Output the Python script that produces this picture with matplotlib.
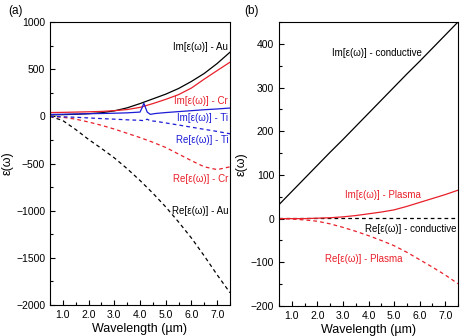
import matplotlib
matplotlib.use("Agg")
import matplotlib.pyplot as plt
from matplotlib.ticker import MultipleLocator

plt.rcParams['font.family'] = ['Liberation Sans', 'DejaVu Sans']

# ---------------- data: panel (a) ----------------
wl = [0.5, 1.0, 1.5, 2.0, 2.5, 3.0, 3.5, 4.0, 4.5, 5.0, 5.5, 6.0, 6.5, 7.0, 7.5]
im_au = [15, 18, 22, 28, 38, 58, 90, 135, 185, 235, 295, 370, 455, 560, 680]
re_au = [0, -45, -140, -245, -340, -440, -555, -680, -815, -960, -1120, -1290, -1480, -1680, -1870]
im_cr = [40, 42, 45, 48, 52, 60, 72, 95, 135, 180, 230, 300, 395, 485, 574]
re_cr = [0, -10, -30, -60, -95, -135, -180, -225, -275, -330, -400, -470, -535, -565, -535]

wl_ti = [0.5, 1.0, 1.5, 2.0, 2.5, 3.0, 3.5, 4.0, 4.08, 4.15, 4.28, 4.4, 4.6, 5.0, 5.5, 6.0, 6.5, 7.0, 7.5]
im_ti = [20, 22, 25, 28, 30, 33, 37, 45, 90, 138, 45, 21, 30, 40, 50, 60, 70, 78, 88]
re_ti = [0, -5, -10, -17, -24, -30, -37, -42, -44, -46, -30, -48, -52, -70, -92, -115, -138, -160, -185]

# ---------------- data: panel (b) ----------------
wl_b = [0.5, 1.0, 1.5, 2.0, 2.5, 3.0, 3.5, 4.0, 4.5, 5.0, 5.5, 6.0, 6.5, 7.0, 7.5]
im_cond = [32, 62, 92, 122, 152, 181, 211, 241, 271, 301, 331, 360, 390, 420, 450]
re_cond = [2, 2, 2, 2, 2, 2, 2, 2, 2, 2, 2, 2, 2, 2, 2]
im_plasma = [0, 0, 0, 1, 2, 4, 7, 11, 15, 20, 28, 37, 46, 55, 65]
re_plasma = [0, -1, -3, -6, -12, -20, -29, -39, -50, -62, -77, -94, -111, -129, -149]

RED = '#e8202a'
BLUE = '#1c1cd6'
FS = 7.5
LFS = 7.0

fig = plt.figure(figsize=(4.74, 3.36), dpi=100)
axa = fig.add_axes([50 / 474, 1 - 305 / 336, 180 / 474, 283 / 336])
axb = fig.add_axes([279 / 474, 1 - 306 / 336, 179 / 474, 284 / 336])

lw = 0.9
dash = (0, (3, 2.5))
axa.plot(wl, im_au, color='black', lw=lw)
axa.plot(wl, re_au, color='black', lw=lw, linestyle=dash)
axa.plot(wl, im_cr, color=RED, lw=lw)
axa.plot(wl, re_cr, color=RED, lw=lw, linestyle=dash)
axa.plot(wl_ti, im_ti, color=BLUE, lw=lw)
axa.plot(wl_ti, re_ti, color=BLUE, lw=lw, linestyle=dash)

axa.set_xlim(0.5, 7.5)
axa.set_ylim(-2000, 1000)
axa.yaxis.set_major_locator(MultipleLocator(500))
axa.yaxis.set_minor_locator(MultipleLocator(250))

axb.plot(wl_b, im_cond, color='black', lw=lw)
axb.plot(wl_b, re_cond, color='black', lw=lw, linestyle=dash)
axb.plot(wl_b, im_plasma, color=RED, lw=lw)
axb.plot(wl_b, re_plasma, color=RED, lw=lw, linestyle=dash)
axb.set_xlim(0.5, 7.5)
axb.set_ylim(-200, 450)
axb.yaxis.set_major_locator(MultipleLocator(100))
axb.yaxis.set_minor_locator(MultipleLocator(50))

for ax in (axa, axb):
    ax.xaxis.set_major_locator(MultipleLocator(1.0))
    ax.xaxis.set_minor_locator(MultipleLocator(0.5))
    ax.set_xticks([1, 2, 3, 4, 5, 6, 7])
    ax.set_xticklabels(['1.0', '2.0', '3.0', '4.0', '5.0', '6.0', '7.0'])
    ax.tick_params(which='both', direction='in', labelsize=FS, width=0.8)
    ax.tick_params(which='major', length=3.5)
    ax.tick_params(which='minor', length=2)
    ax.set_xlabel('Wavelength (µm)', fontsize=9, labelpad=2)
    ax.set_ylabel('ε(ω)', fontsize=9, labelpad=2)
    for s in ax.spines.values():
        s.set_linewidth(0.8)

# panel (a) labels
kw = dict(transform=axa.transAxes, fontsize=LFS, ha='right', va='center')
axa.text(0.99, 0.912, 'Im[ε(ω)] - Au', color='black', **kw)
axa.text(0.99, 0.721, 'Im[ε(ω)] - Cr', color=RED, **kw)
axa.text(0.99, 0.661, 'Im[ε(ω)] - Ti', color=BLUE, **kw)
axa.text(0.99, 0.583, 'Re[ε(ω)] - Ti', color=BLUE, **kw)
axa.text(0.99, 0.445, 'Re[ε(ω)] - Cr', color=RED, **kw)
axa.text(0.99, 0.332, 'Re[ε(ω)] - Au', color='black', **kw)

kwb = dict(transform=axb.transAxes, fontsize=LFS, ha='center', va='center')
axb.text(0.547, 0.891, 'Im[ε(ω)] - conductive', color='black', **kwb)
axb.text(0.581, 0.391, 'Im[ε(ω)] - Plasma', color=RED, **kwb)
axb.text(0.737, 0.272, 'Re[ε(ω)] - conductive', color='black', **kwb)
axb.text(0.475, 0.165, 'Re[ε(ω)] - Plasma', color=RED, **kwb)

fig.text(8 / 474, 1 - 11 / 336, '(a)', fontsize=8.5, va='center', ha='left')
fig.text(244 / 474, 1 - 11 / 336, '(b)', fontsize=8.5, va='center', ha='left')

fig.savefig('out.png', dpi=100)
